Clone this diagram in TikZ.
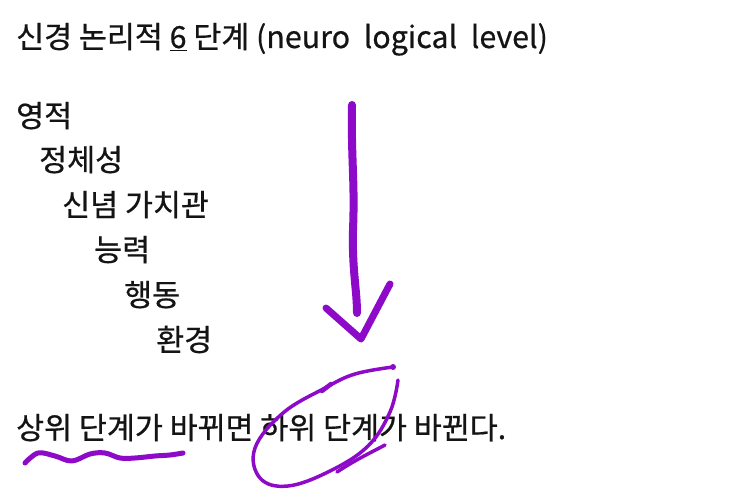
\documentclass[tikz,border=0pt]{standalone}
\usepackage{fontspec}
\setmainfont[FakeBold=0.6]{Noto Sans CJK KR}
\begin{document}
\begin{tikzpicture}[x=1pt,y=-1pt,
  txt/.style={anchor=base west, inner sep=0pt, font=\fontsize{30.4}{36}\selectfont, text=black!92},
  pen/.style={draw=penpurple, line cap=round, line join=round}]
\definecolor{penpurple}{RGB}{140,10,200}
\useasboundingbox (0,0) rectangle (743,497);
\fill[white] (0,0) rectangle (743,497);
\node[txt] (title) at (16,48) {신경 논리적 \underline{6} 단계 (neuro\ \ logical\ \ level)};
\node[txt] (l1) at (16,127) {영적};
\node[txt] (l2) at (39,171) {정체성};
\node[txt] (l3) at (62,216) {신념 가치관};
\node[txt] (l4) at (94,261) {능력};
\node[txt] (l5) at (124,306) {행동};
\node[txt] (l6) at (156,351) {환경};
\node[txt] (bottom) at (16,439) {상위 단계가 바뀌면 하위 단계가 바뀐다.};
% arrow
\coordinate (atop) at (352,105);
\coordinate (abot) at (357,313);
\coordinate (hl) at (326,308);
\coordinate (hv) at (361,339);
\coordinate (hr) at (390,284);
\draw[pen, line width=8pt] (atop) .. controls (351,160) and (355,180) .. (353,230) .. controls (352,270) and (357,290) .. (abot);
\draw[pen, line width=7pt] (hl) -- (hv) -- (hr);
% loop
\draw[pen, line width=3.5pt] plot[smooth, tension=0.65] coordinates {(393,367) (355,374) (325,388) (283,413) (255,448) (260,478) (288,486) (330,471) (368,446) (390,412) (398,380)};
\draw[pen, line width=3.5pt] (337,472) .. controls (355,460) and (372,452) .. (385,445);
\draw[pen, line width=4.5pt] (322,391) -- (331,384);
\fill[penpurple] (393,367) circle (3pt);
% wave
\draw[pen, line width=5pt] plot[smooth, tension=0.6] coordinates {(25,463) (38,453) (55,456) (72,461) (90,454) (105,453) (120,458) (135,458) (155,456) (170,455) (183,453)};
\end{tikzpicture}
\end{document}
